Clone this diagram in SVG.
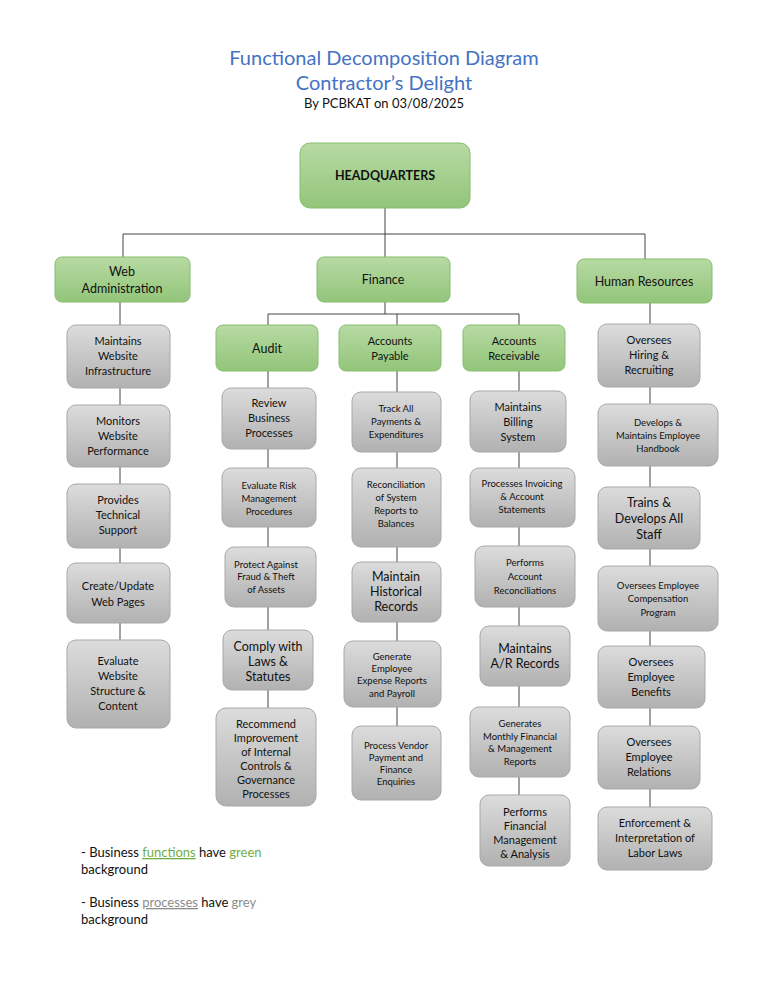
<svg xmlns="http://www.w3.org/2000/svg" width="768" height="994" viewBox="0 0 768 994">
<defs>
<linearGradient id="g" x1="0" y1="0" x2="0" y2="1"><stop offset="0" stop-color="#b7daa3"/><stop offset="1" stop-color="#92c57a"/></linearGradient>
<linearGradient id="s" x1="0" y1="0" x2="0" y2="1"><stop offset="0" stop-color="#dcdcdc"/><stop offset="1" stop-color="#b1b1b1"/></linearGradient>
</defs>
<style>
text{font-family:Lato,"Open Sans","Liberation Sans",sans-serif;fill:#111;text-anchor:middle}
.f{fill:url(#g);stroke:#86bd6c;stroke-width:1}
.p{fill:url(#s);stroke:#a8a8a8;stroke-width:1}
.t{font-size:12.5px}.m{font-size:11px}.sm{font-size:9.5px}.l{font-size:14px}
line{stroke:#444;stroke-width:1}
</style>
<text x="384" y="65" style="font-size:20px;fill:#4472c4">Functional Decomposition Diagram</text>
<text x="384" y="90" style="font-size:20px;fill:#4472c4">Contractor’s Delight</text>
<text x="384" y="108" style="font-size:13px">By PCBKAT on 03/08/2025</text>
<g id="connectors">
<line x1="385" y1="208" x2="385" y2="234"/><line x1="123" y1="234" x2="645" y2="234"/>
<line x1="123" y1="234" x2="123" y2="258"/><line x1="385" y1="234" x2="385" y2="258"/><line x1="645" y1="234" x2="645" y2="260"/>
<line x1="120" y1="302" x2="120" y2="640"/>
<line x1="385" y1="302" x2="385" y2="314"/><line x1="268" y1="314" x2="519" y2="314"/>
<line x1="268" y1="314" x2="268" y2="710"/><line x1="397" y1="314" x2="397" y2="726"/><line x1="519" y1="314" x2="519" y2="796"/>
<line x1="650" y1="303" x2="650" y2="808"/>
</g>
<g id="hq"><rect class="f" x="300" y="143" width="170" height="65" rx="10"/><text x="385" y="180" style="font-size:12.5px;font-weight:bold">HEADQUARTERS</text></g>
<g id="web"><rect class="f" x="55" y="257" width="135" height="45" rx="7"/><text class="t" x="122" y="276">Web</text><text class="t" x="122" y="293">Administration</text></g>
<g id="finance"><rect class="f" x="317" y="257" width="133" height="45" rx="7"/><text class="t" x="383" y="284">Finance</text></g>
<g id="hr"><rect class="f" x="577" y="259" width="135" height="44" rx="7"/><text class="t" x="644" y="286">Human Resources</text></g>
<g id="audit"><rect class="f" x="216" y="325" width="102" height="46" rx="7"/><text class="t" x="267" y="353">Audit</text></g>
<g id="ap"><rect class="f" x="339" y="325" width="102" height="46" rx="7"/><text class="m" x="390" y="345">Accounts</text><text class="m" x="390" y="360">Payable</text></g>
<g id="ar"><rect class="f" x="463" y="325" width="102" height="46" rx="7"/><text class="m" x="514" y="345">Accounts</text><text class="m" x="514" y="360">Receivable</text></g>

<g id="w1"><rect class="p" x="67" y="325" width="103" height="63" rx="9"/><text class="m" x="118" y="345">Maintains</text><text class="m" x="118" y="360">Website</text><text class="m" x="118" y="375">Infrastructure</text></g>
<g id="w2"><rect class="p" x="67" y="405" width="103" height="62" rx="9"/><text class="m" x="118" y="425">Monitors</text><text class="m" x="118" y="440">Website</text><text class="m" x="118" y="455">Performance</text></g>
<g id="w3"><rect class="p" x="67" y="484" width="103" height="64" rx="9"/><text class="m" x="118" y="504">Provides</text><text class="m" x="118" y="519">Technical</text><text class="m" x="118" y="534">Support</text></g>
<g id="w4"><rect class="p" x="67" y="563" width="103" height="60" rx="9"/><text class="m" x="118" y="590">Create/Update</text><text class="m" x="118" y="606">Web Pages</text></g>
<g id="w5"><rect class="p" x="67" y="640" width="103" height="88" rx="9"/><text class="m" x="118" y="665">Evaluate</text><text class="m" x="118" y="680">Website</text><text class="m" x="118" y="695">Structure &amp;</text><text class="m" x="118" y="710">Content</text></g>

<g id="a1"><rect class="p" x="222" y="388" width="94" height="61" rx="9"/><text class="m" x="269" y="407">Review</text><text class="m" x="269" y="422">Business</text><text class="m" x="269" y="437">Processes</text></g>
<g id="a2"><rect class="p" x="222" y="468" width="94" height="59" rx="9"/><text class="sm" x="269" y="489">Evaluate Risk</text><text class="sm" x="269" y="502">Management</text><text class="sm" x="269" y="515">Procedures</text></g>
<g id="a3"><rect class="p" x="225" y="547" width="91" height="60" rx="9"/><text class="sm" x="266" y="568">Protect Against</text><text class="sm" x="266" y="580">Fraud &amp; Theft</text><text class="sm" x="266" y="593">of Assets</text></g>
<g id="a4"><rect class="p" x="223" y="630" width="90" height="60" rx="9"/><text class="t" x="268" y="651">Comply with</text><text class="t" x="268" y="666">Laws &amp;</text><text class="t" x="268" y="681">Statutes</text></g>
<g id="a5"><rect class="p" x="216" y="708" width="100" height="98" rx="10"/><text class="m" x="266" y="728">Recommend</text><text class="m" x="266" y="742">Improvement</text><text class="m" x="266" y="756">of Internal</text><text class="m" x="266" y="770">Controls &amp;</text><text class="m" x="266" y="784">Governance</text><text class="m" x="266" y="798">Processes</text></g>

<g id="p1"><rect class="p" x="352" y="392" width="89" height="60" rx="9"/><text class="sm" x="396" y="412">Track All</text><text class="sm" x="396" y="425">Payments &amp;</text><text class="sm" x="396" y="438">Expenditures</text></g>
<g id="p2"><rect class="p" x="352" y="468" width="89" height="79" rx="9"/><text class="sm" x="396" y="488">Reconciliation</text><text class="sm" x="396" y="501">of System</text><text class="sm" x="396" y="514">Reports to</text><text class="sm" x="396" y="527">Balances</text></g>
<g id="p3"><rect class="p" x="352" y="562" width="89" height="60" rx="9"/><text class="t" x="396" y="581">Maintain</text><text class="t" x="396" y="596">Historical</text><text class="t" x="396" y="611">Records</text></g>
<g id="p4"><rect class="p" x="344" y="641" width="97" height="66" rx="9"/><text class="sm" x="392" y="660">Generate</text><text class="sm" x="392" y="672">Employee</text><text class="sm" x="392" y="684">Expense Reports</text><text class="sm" x="392" y="697">and Payroll</text></g>
<g id="p5"><rect class="p" x="352" y="726" width="89" height="74" rx="9"/><text class="sm" x="396" y="749">Process Vendor</text><text class="sm" x="396" y="761">Payment and</text><text class="sm" x="396" y="773">Finance</text><text class="sm" x="396" y="785">Enquiries</text></g>

<g id="r1"><rect class="p" x="470" y="391" width="96" height="61" rx="9"/><text class="m" x="518" y="411">Maintains</text><text class="m" x="518" y="426">Billing</text><text class="m" x="518" y="441">System</text></g>
<g id="r2"><rect class="p" x="470" y="468" width="105" height="59" rx="9"/><text class="sm" x="522" y="487">Processes Invoicing</text><text class="sm" x="522" y="500">&amp; Account</text><text class="sm" x="522" y="513">Statements</text></g>
<g id="r3"><rect class="p" x="475" y="546" width="100" height="61" rx="9"/><text class="sm" x="525" y="566">Performs</text><text class="sm" x="525" y="580">Account</text><text class="sm" x="525" y="594">Reconciliations</text></g>
<g id="r4"><rect class="p" x="480" y="626" width="90" height="60" rx="9"/><text class="t" x="525" y="653">Maintains</text><text class="t" x="525" y="668">A/R Records</text></g>
<g id="r5"><rect class="p" x="470" y="707" width="100" height="70" rx="9"/><text class="sm" x="520" y="727">Generates</text><text class="sm" x="520" y="740">Monthly Financial</text><text class="sm" x="520" y="752">&amp; Management</text><text class="sm" x="520" y="765">Reports</text></g>
<g id="r6"><rect class="p" x="480" y="795" width="90" height="71" rx="9"/><text class="m" x="525" y="816">Performs</text><text class="m" x="525" y="830">Financial</text><text class="m" x="525" y="844">Management</text><text class="m" x="525" y="858">&amp; Analysis</text></g>

<g id="h1"><rect class="p" x="598" y="324" width="102" height="63" rx="9"/><text class="m" x="649" y="344">Oversees</text><text class="m" x="649" y="359">Hiring &amp;</text><text class="m" x="649" y="374">Recruiting</text></g>
<g id="h2"><rect class="p" x="598" y="404" width="120" height="62" rx="9"/><text class="sm" x="658" y="426">Develops &amp;</text><text class="sm" x="658" y="439">Maintains Employee</text><text class="sm" x="658" y="452">Handbook</text></g>
<g id="h3"><rect class="p" x="598" y="487" width="102" height="62" rx="9"/><text class="t" x="649" y="507">Trains &amp;</text><text class="t" x="649" y="523">Develops All</text><text class="t" x="649" y="539">Staff</text></g>
<g id="h4"><rect class="p" x="598" y="566" width="120" height="65" rx="9"/><text class="sm" x="658" y="589">Oversees Employee</text><text class="sm" x="658" y="602">Compensation</text><text class="sm" x="658" y="616">Program</text></g>
<g id="h5"><rect class="p" x="598" y="646" width="107" height="62" rx="9"/><text class="m" x="651" y="666">Oversees</text><text class="m" x="651" y="681">Employee</text><text class="m" x="651" y="696">Benefits</text></g>
<g id="h6"><rect class="p" x="598" y="726" width="102" height="63" rx="9"/><text class="m" x="649" y="746">Oversees</text><text class="m" x="649" y="761">Employee</text><text class="m" x="649" y="776">Relations</text></g>
<g id="h7"><rect class="p" x="598" y="807" width="114" height="63" rx="9"/><text class="m" x="655" y="827">Enforcement &amp;</text><text class="m" x="655" y="842">Interpretation of</text><text class="m" x="655" y="857">Labor Laws</text></g>

<g id="legend" style="font-size:13px">
<text x="81" y="857" style="text-anchor:start">- Business <tspan fill="#70ad47" text-decoration="underline">functions</tspan> have <tspan fill="#70ad47">green</tspan></text>
<text x="81" y="874" style="text-anchor:start">background</text>
<text x="81" y="907" style="text-anchor:start">- Business <tspan fill="#8c8c8c" text-decoration="underline">processes</tspan> have <tspan fill="#8c8c8c">grey</tspan></text>
<text x="81" y="924" style="text-anchor:start">background</text>
</g>
</svg>
